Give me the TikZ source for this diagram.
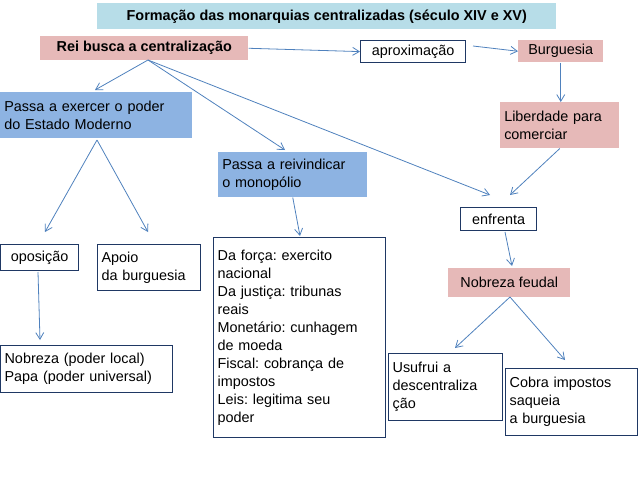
\documentclass[tikz,border=0pt]{standalone}
\usepackage{fontspec}
\setmainfont{Liberation Sans}
\frenchspacing
\usetikzlibrary{arrows.meta}
\definecolor{tblue}{HTML}{B7DDE8}
\definecolor{pinkf}{HTML}{E6B9B8}
\definecolor{bluef}{HTML}{8DB3E2}
\definecolor{edge}{HTML}{1F3864}
\definecolor{arr}{HTML}{4F81BD}
\begin{document}
\begin{tikzpicture}[x=0.75pt,y=-0.75pt,
  box/.style={draw=edge,line width=0.9pt,inner sep=3pt,anchor=north west,align=left,font=\fontsize{10.8}{13.5}\selectfont},
  fbox/.style={inner sep=3pt,anchor=north west,align=left,font=\fontsize{10.8}{13.5}\selectfont},
  ar/.style={draw=arr,line width=0.6pt,-{Straight Barb[length=5pt,width=6pt]}}]
\useasboundingbox (0,0) rectangle (638,478);
\node[fbox,fill=tblue,minimum width=459*0.75pt,minimum height=26*0.75pt,align=center,font=\fontsize{10.8}{13}\selectfont\bfseries] (t) at (97,3) {Formação das monarquias centralizadas (século XIV e XV)};
\node[fbox,fill=pinkf,minimum width=208*0.75pt,minimum height=24*0.75pt,align=center,font=\fontsize{10.8}{13}\selectfont\bfseries] (rei) at (40,36) {Rei busca a centralização};
\node[box,minimum width=105*0.75pt,minimum height=22*0.75pt,align=center] (ap) at (360,40) {aproximação};
\node[fbox,fill=pinkf,minimum width=85*0.75pt,minimum height=22*0.75pt,align=center] (bu) at (518,40) {Burguesia};
\node[fbox,fill=bluef,text width=184*0.75pt,minimum height=46*0.75pt] (pe) at (0,92) {Passa a exercer o poder\\do Estado Moderno};
\node[fbox,fill=pinkf,text width=111*0.75pt,minimum height=46*0.75pt] (li) at (500,102) {Liberdade para\\ comerciar};
\node[fbox,fill=bluef,text width=141*0.75pt,minimum height=45*0.75pt] (pr) at (218,152) {Passa a reivindicar\\ o monopólio};
\node[box,minimum width=76*0.75pt,minimum height=23*0.75pt,align=center] (en) at (460,207) {enfrenta};
\node[box,minimum width=78*0.75pt,minimum height=26*0.75pt] (op) at (0,244) {oposição};
\node[box,text width=95*0.75pt,minimum height=46*0.75pt] (apo) at (97,244) {Apoio\\da burguesia};
\node[box,text width=164*0.75pt,minimum height=200*0.75pt] (big) at (213,237) {Da força: exercito\\nacional\\Da justiça: tribunas\\reais\\Monetário: cunhagem\\de moeda\\Fiscal: cobrança de\\impostos\\Leis: legitima seu\\poder};
\node[fbox,fill=pinkf,minimum width=122*0.75pt,minimum height=29*0.75pt,align=center] (nf) at (448,268) {Nobreza feudal};
\node[box,text width=164*0.75pt,minimum height=47*0.75pt] (no) at (0,345) {Nobreza (poder local)\\Papa (poder universal)};
\node[box,text width=106*0.75pt,minimum height=67*0.75pt] (us) at (388,353) {Usufrui a\\descentraliza\\ção};
\node[box,text width=124*0.75pt,minimum height=67*0.75pt] (co) at (505,368) {Cobra impostos\\saqueia\\a burguesia};
\coordinate (rb) at (148,60);
\draw[ar] (rei.east) -- (ap.west);
\draw[ar] (473,46) -- (bu.west);
\draw[ar] (bu.south) -- (li.north-|bu.south);
\draw[ar] (rb) -- (95,90);
\draw[ar] (rb) -- (285,150);
\draw[ar] (rb) -- (490,195);
\draw[ar] (li.south) -- (510,195);
\draw[ar] (97,140) -- (45,232);
\draw[ar] (97,140) -- (148,232);
\draw[ar] (pr.south) -- (300,236);
\draw[ar] (505,232) -- (512,266);
\draw[ar] (38,272) -- (40,340);
\draw[ar] (510,297) -- (455,348);
\draw[ar] (510,297) -- (565,360);
\end{tikzpicture}
\end{document}
